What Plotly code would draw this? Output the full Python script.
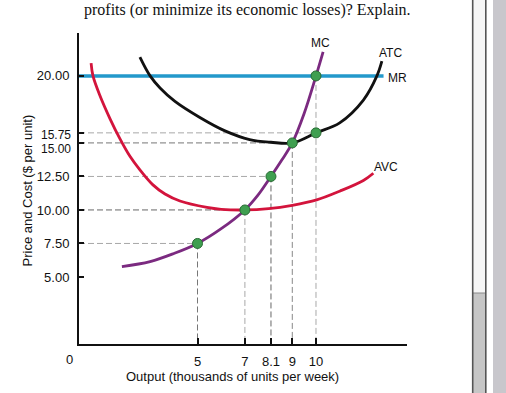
import plotly.graph_objects as go

# ---------------- data ----------------
mr_x = [0.0, 12.85]
mr_y = [20.0, 20.0]

mc_x = [1.81, 3.0, 4.0, 5.0, 6.0, 7.0, 7.55, 8.1, 8.55, 9.0, 9.5, 10.0, 10.3]
mc_y = [5.78, 6.15, 6.75, 7.5, 8.6, 10.0, 11.1, 12.5, 13.7, 15.0, 17.2, 20.0, 21.8]

atc_x = [2.57, 3.0, 3.42, 4.05, 5.1, 6.16, 7.2, 8.1, 9.0, 10.0, 11.0, 12.0, 12.57, 12.78]
atc_y = [21.4, 20.0, 19.1, 18.1, 16.9, 15.9, 15.25, 15.05, 15.0, 15.75, 16.5, 18.2, 20.0, 21.1]

avc_x = [0.51, 0.59, 0.89, 1.31, 1.73, 2.15, 2.57, 3.12, 3.63, 4.26, 5.4, 6.0, 7.0, 8.0, 9.0, 10.03, 11.0, 12.0, 12.42]
avc_y = [20.95, 20.0, 18.5, 16.8, 15.3, 14.0, 12.99, 11.87, 11.19, 10.67, 10.19, 10.05, 10.0, 10.1, 10.35, 10.75, 11.4, 12.2, 12.74]

dot_x = [5, 7, 8.1, 9, 10, 10]
dot_y = [7.5, 10, 12.5, 15, 15.75, 20]

x_ticks = [5, 7, 8.1, 9, 10]
x_ticktext = ["5", "7", "8.1", "9", "10"]
y_ticks = [5, 7.5, 10, 12.5, 15, 15.75, 20]
y_ticktext = ["5.00", "7.50", "10.00", "12.50", "15.00", "15.75", "20.00"]
# the two crowded labels are drawn as separate texts, nudged apart as in the original
crowded_ticks = [15.75, 15]

h_guide_colors = {7.5: "#a8a8a8", 10: "#666666", 12.5: "#a8a8a8", 15: "#777777", 15.75: "#a8a8a8"}
v_guide_colors = {5: "#777777", 7: "#a8a8a8", 8.1: "#666666", 9: "#888888", 10: "#a8a8a8"}

title_text = "profits (or minimize its economic losses)? Explain."
x_title = "Output (thousands of units per week)"
y_title = "Price and Cost ($ per unit)"

# ---------------- layout geometry ----------------
W, H = 506, 393
L, R, T, B = 79, 99, 33, 49
PW, PH = W - L - R, H - T - B
X_RANGE = [0, 13.84]
Y_RANGE = [0, 23.2]

def px(xp):
    return (xp - L) / PW

def py(yp):
    return (H - B - yp) / PH

SANS = "Liberation Sans, Arial, Helvetica, sans-serif"

fig = go.Figure()

# dashed guides (horizontal to each dot, vertical from highest dot at each x)
for xv, yv in zip(dot_x, dot_y):
    if yv < 20:
        fig.add_trace(go.Scatter(x=[0, xv], y=[yv, yv], mode="lines",
                                 line=dict(color=h_guide_colors.get(yv, "#999"), width=1, dash="6px,3px"),
                                 hoverinfo="skip", showlegend=False))
for xv in sorted(set(dot_x)):
    top = max(yv for xx, yv in zip(dot_x, dot_y) if xx == xv)
    fig.add_trace(go.Scatter(x=[xv, xv], y=[top, 0], mode="lines",
                             line=dict(color=v_guide_colors.get(xv, "#999"), width=1, dash="6px,3px"),
                             hoverinfo="skip", showlegend=False))

fig.add_trace(go.Scatter(x=mr_x, y=mr_y, mode="lines", line=dict(color="#2399cb", width=3.5),
                         showlegend=False, name="MR"))
fig.add_trace(go.Scatter(x=avc_x, y=avc_y, mode="lines", line=dict(color="#d3143c", width=2.8, shape="spline", smoothing=1.0),
                         showlegend=False, name="AVC"))
fig.add_trace(go.Scatter(x=atc_x, y=atc_y, mode="lines", line=dict(color="#111111", width=2.8, shape="spline", smoothing=1.0),
                         showlegend=False, name="ATC"))
fig.add_trace(go.Scatter(x=mc_x, y=mc_y, mode="lines", line=dict(color="#7b2a80", width=2.8, shape="spline", smoothing=1.0),
                         showlegend=False, name="MC"))
fig.add_trace(go.Scatter(x=dot_x, y=dot_y, mode="markers",
                         marker=dict(size=10, color="#3f9f50", line=dict(color="#2a6b35", width=1)),
                         showlegend=False))

def ann(text, x, y, ref, size=12, family=SANS, angle=0, xanchor="center"):
    return dict(text=text, x=x, y=y, xref=ref[0], yref=ref[1], showarrow=False,
                xanchor=xanchor, yanchor="middle", textangle=angle,
                font=dict(family=family, size=size, color="#111"))

annotations = [
    ann("MC", 10.17, 22.46, ("x", "y")),
    ann("ATC", 13.16, 21.74, ("x", "y")),
    ann("MR", 13.46, 19.85, ("x", "y")),
    ann("AVC", 12.95, 13.2, ("x", "y")),
    ann("0", px(69), py(359), ("paper", "paper"), size=13),
    ann(x_title, px(232.6), py(376), ("paper", "paper"), size=13),
    ann(y_title, px(26.5), py(191), ("paper", "paper"), size=13, angle=-90),
    ann(title_text, px(247.3), py(10.5), ("paper", "paper"), size=16,
        family="Liberation Serif, Times New Roman, serif"),
]
# crowded tick labels: 15.75 nudged up, 15.00 nudged down (right-aligned beside the axis)
nudges = {15.75: 135.0, 15: 149.0}
for v in crowded_ticks:
    annotations.append(ann(y_ticktext[y_ticks.index(v)], px(73), py(nudges[v]), ("paper", "paper"),
                           size=12, xanchor="right"))
y_ticktext_shown = ["" if v in crowded_ticks else t for v, t in zip(y_ticks, y_ticktext)]

# decorative scroll bar at right edge
shapes = [
    dict(type="rect", xref="paper", yref="paper", x0=px(493), x1=px(507), y0=py(394), y1=py(-1),
         fillcolor="#c8c7cc", line=dict(width=0), layer="above"),
    dict(type="rect", xref="paper", yref="paper", x0=px(473), x1=px(486), y0=py(394), y1=py(293),
         fillcolor="#c6c6c6", line=dict(width=0), layer="above"),
    dict(type="rect", xref="paper", yref="paper", x0=px(473), x1=px(486), y0=py(293), y1=py(-1),
         fillcolor="#f6f6f6", line=dict(width=0), layer="above"),
    dict(type="line", xref="paper", yref="paper", x0=px(473), x1=px(486), y0=py(293), y1=py(293),
         line=dict(color="#8a8a8a", width=1), layer="above"),
    dict(type="line", xref="paper", yref="paper", x0=px(472.7), x1=px(472.7), y0=py(394), y1=py(-1),
         line=dict(color="#555555", width=1.6), layer="above"),
    dict(type="line", xref="paper", yref="paper", x0=px(485.8), x1=px(485.8), y0=py(394), y1=py(-1),
         line=dict(color="#555555", width=1.6), layer="above"),
]

fig.update_layout(
    width=W, height=H,
    margin=dict(l=L, r=R, t=T, b=B, pad=0),
    paper_bgcolor="white", plot_bgcolor="white",
    annotations=annotations, shapes=shapes,
    showlegend=False,
)
fig.update_xaxes(range=X_RANGE, showgrid=False, zeroline=False, showline=True, linecolor="#111", linewidth=2,
                 ticks="inside", ticklen=6, tickwidth=1.5, tickcolor="#111",
                 tickvals=x_ticks, ticktext=x_ticktext, ticklabelstandoff=4,
                 tickfont=dict(family=SANS, size=13, color="#111"))
fig.update_yaxes(range=Y_RANGE, showgrid=False, zeroline=False, showline=True, linecolor="#111", linewidth=2,
                 ticks="inside", ticklen=5, tickwidth=1.5, tickcolor="#111",
                 tickvals=y_ticks, ticktext=y_ticktext_shown, ticklabelstandoff=5,
                 tickfont=dict(family=SANS, size=13, color="#111"))

fig.write_html("out.html",
               config={"displayModeBar": False},
               post_script="document.body.style.margin='0px';document.body.style.padding='0px';"
                           "document.body.style.overflow='hidden';")
